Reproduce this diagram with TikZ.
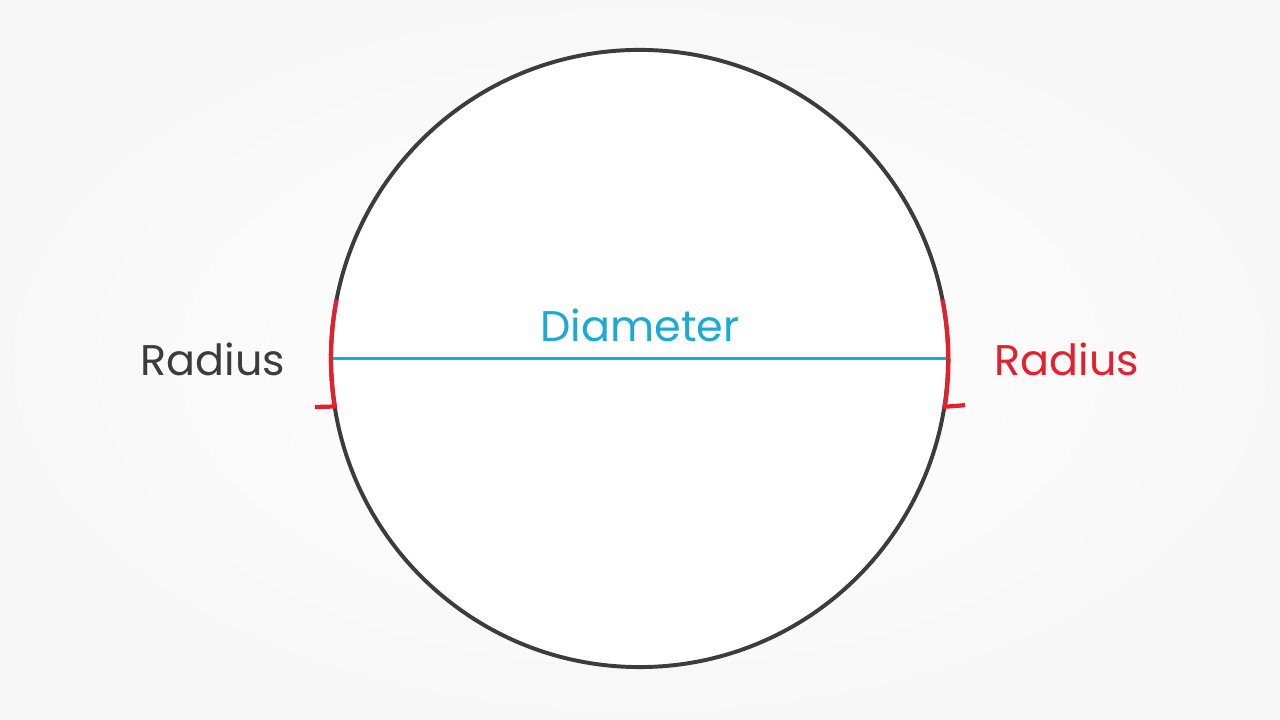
\documentclass[tikz,border=0pt]{standalone}
\usepackage{fontspec}
\setmainfont{Poppins}
\definecolor{rimgray}{HTML}{3C3C3C}
\definecolor{radred}{HTML}{E3202E}
\definecolor{diamblue}{HTML}{1BA9D8}
\tikzset{
	label text/.style={inner sep=0pt, font=\fontsize{30.5}{36}\selectfont},
	radius arc/.style={draw=radred, line width=3pt},
}
\begin{document}
\begin{tikzpicture}[x=0.025cm,y=0.025cm]
	\useasboundingbox (0,0) rectangle (1280,720);
	\shade[inner color=white, outer color=gray!6] (0,0) rectangle (1280,720);
	\node (C) at (639.5,361.5)	[circle, draw=rimgray, fill=white, line width=2.8pt, minimum size=15.425cm, inner sep=0pt, outer sep=0pt]	{};
	\coordinate (LT) at (315,313);
	\coordinate (RT) at (965,314.8);
	\draw[diamblue, line width=2.2pt] (C.west) -- (C.east);
	\draw[radius arc] (C.169.1) arc[start angle=169.1, end angle=189.05, radius=7.7125cm] -- (LT);
	\draw[radius arc] (C.11.3) arc[start angle=11.3, end angle=-8.7, radius=7.7125cm] -- (RT);
	\node (D) at (640,394.5)	[label text, text=diamblue]	{Diameter};
	\node (RL) at (213,361)	[label text, text=rimgray]	{Radius};
	\node (RR) at (1067,361)	[label text, text=radred]	{Radius};
\end{tikzpicture}
\end{document}
